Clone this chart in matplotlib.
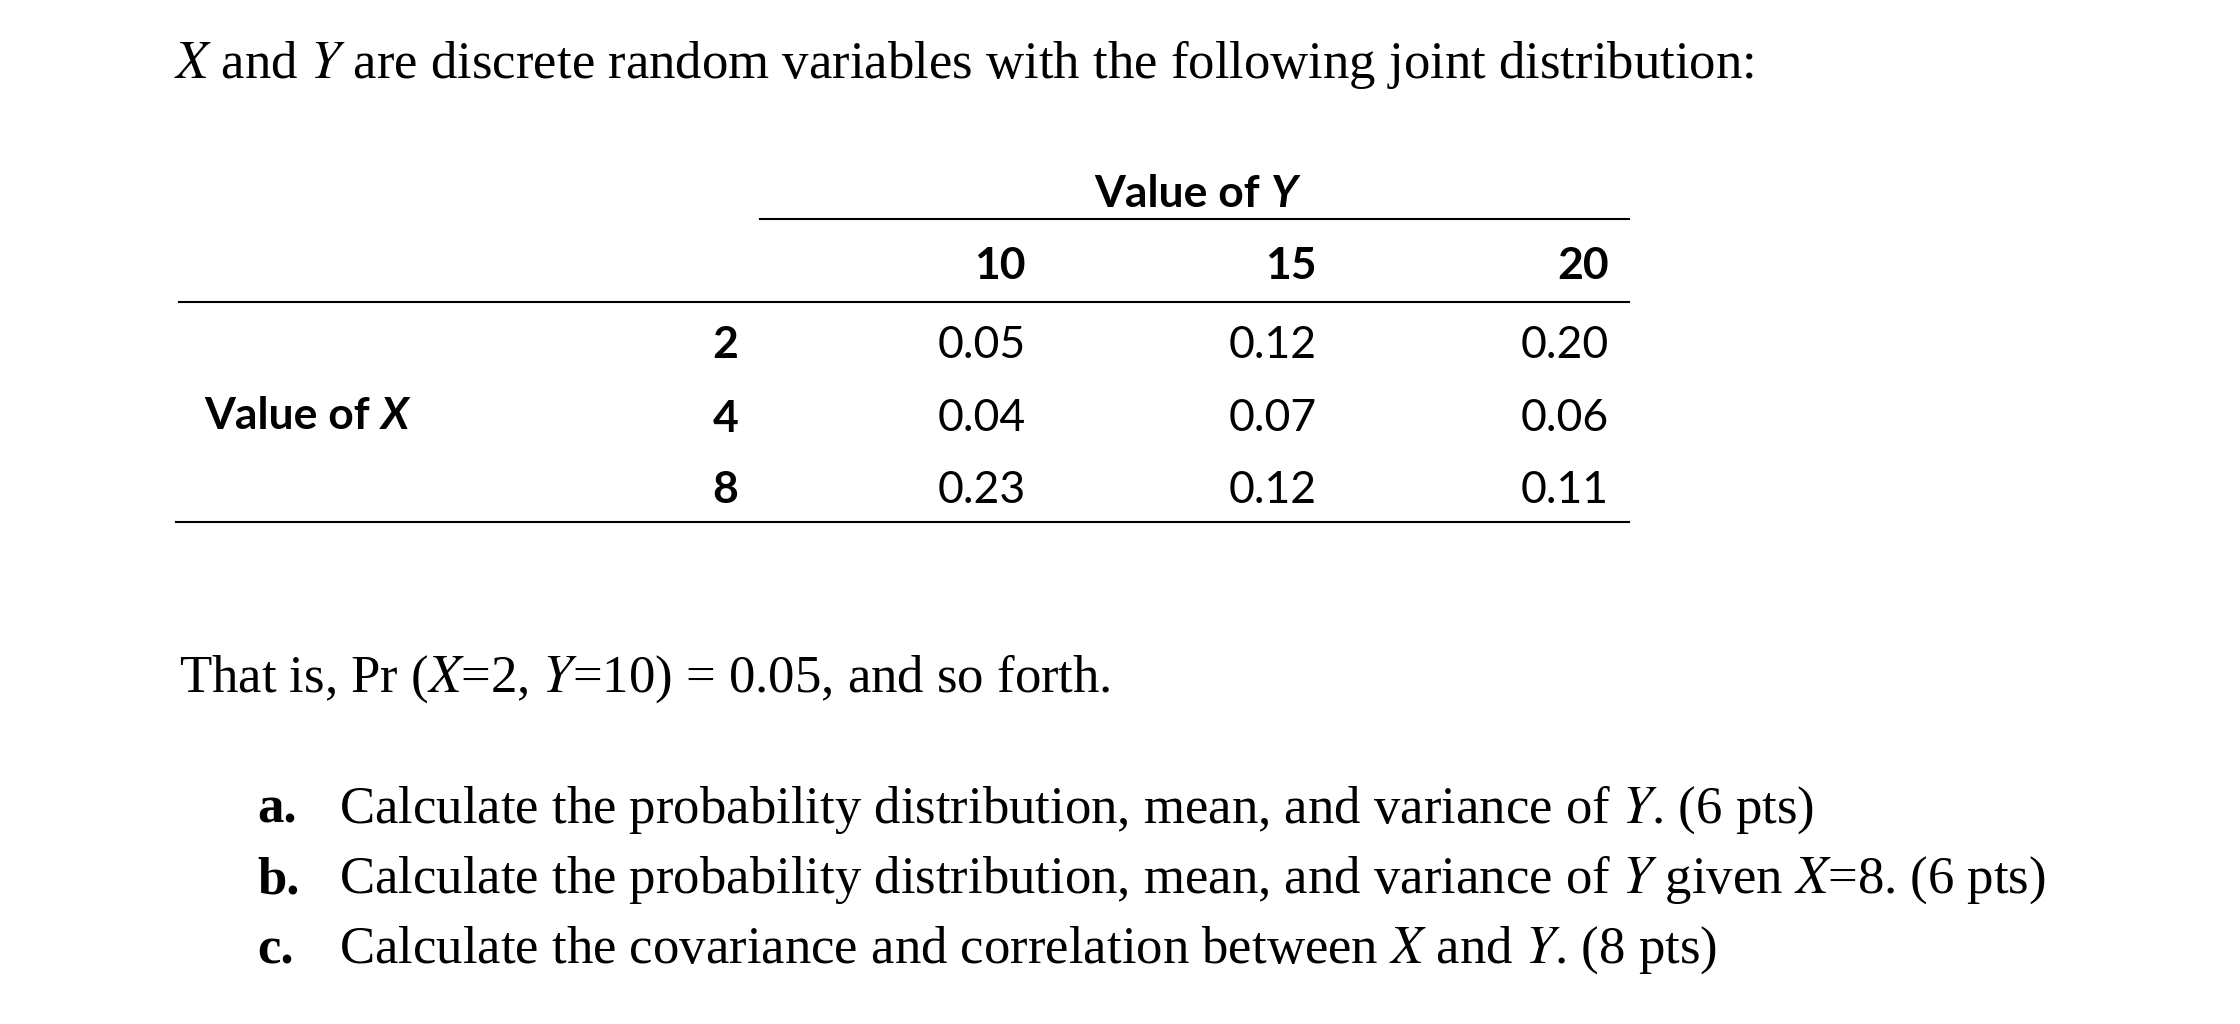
import matplotlib.pyplot as plt

plt.rcParams["mathtext.fontset"] = "stix"

# table data
y_values = ["10", "15", "20"]
x_values = ["2", "4", "8"]
probs = [
    ["0.05", "0.12", "0.20"],
    ["0.04", "0.07", "0.06"],
    ["0.23", "0.12", "0.11"],
]
questions = [
    ("a.", r"Calculate the probability distribution, mean, and variance of $Y$. (6 pts)"),
    ("b.", r"Calculate the probability distribution, mean, and variance of $Y$ given $X$=8. (6 pts)"),
    ("c.", r"Calculate the covariance and correlation between $X$ and $Y$. (8 pts)"),
]

SERIF = "Liberation Serif"
SANS = "Lato"
W, H = 1568, 712  # layout in reference pixel units
FS_SERIF = 38
FS_SANS = 32


def fx(x):
    return x / W


def fy(y):
    return 1 - y / H


fig = plt.figure(figsize=(22.4, 10.24), dpi=100)
fig.patch.set_facecolor("white")
renderer = fig.canvas.get_renderer()


def label_with_italic(x, y, ha):
    """'Value of ' in bold plus a bold italic letter, placed as one group."""
    t1 = fig.text(0, 0, "Value of ", family=SANS, fontsize=FS_SANS, fontweight="bold", va="center")
    w1 = t1.get_window_extent(renderer).width / fig.bbox.width
    return t1, w1


def value_of(x, y, letter, ha):
    t1 = fig.text(0, fy(y), "Value of ", family=SANS, fontsize=FS_SANS, fontweight="bold", va="center")
    t2 = fig.text(0, fy(y), letter, family=SANS, fontsize=FS_SANS, fontweight="bold",
                  style="italic", va="center")
    w1 = t1.get_window_extent(renderer).width / fig.bbox.width
    w2 = t2.get_window_extent(renderer).width / fig.bbox.width
    x0 = fx(x) - (w1 + w2) / 2 if ha == "center" else fx(x)
    t1.set_x(x0)
    t2.set_x(x0 + w1)


fig.text(fx(122), fy(45), r"$X$ and $Y$ are discrete random variables with the following joint distribution:",
         family=SERIF, fontsize=FS_SERIF, va="center")

# table header
value_of(837, 135, "Y", "center")
fig.add_artist(plt.Line2D([fx(532), fx(1140)], [fy(152), fy(152)], color="black", lw=1.5))

col_x = [718, 922, 1126]
for cx, lab in zip(col_x, y_values):
    fig.text(fx(cx), fy(185), lab, family=SANS, fontsize=FS_SANS, fontweight="bold", ha="right", va="center")
fig.add_artist(plt.Line2D([fx(125), fx(1140)], [fy(210), fy(210)], color="black", lw=1.5))

row_y = [240, 291, 341]
for ry, xl, row in zip(row_y, x_values, probs):
    fig.text(fx(517), fy(ry), xl, family=SANS, fontsize=FS_SANS, fontweight="bold", ha="right", va="center")
    for cx, p in zip(col_x, row):
        fig.text(fx(cx), fy(ry), p, family=SANS, fontsize=FS_SANS, ha="right", va="center")

value_of(143, 289, "X", "left")
fig.add_artist(plt.Line2D([fx(123), fx(1140)], [fy(363), fy(363)], color="black", lw=1.5))

fig.text(fx(125), fy(472), r"That is, Pr ($X$=2, $Y$=10) = 0.05, and so forth.",
         family=SERIF, fontsize=FS_SERIF, va="center")

for qy, (letter, text) in zip([563, 612, 661], questions):
    fig.text(fx(180), fy(qy), letter, family=SERIF, fontsize=FS_SERIF, fontweight="bold", va="center")
    fig.text(fx(237), fy(qy), text, family=SERIF, fontsize=FS_SERIF, va="center")

fig.savefig("out.png", dpi=100)
